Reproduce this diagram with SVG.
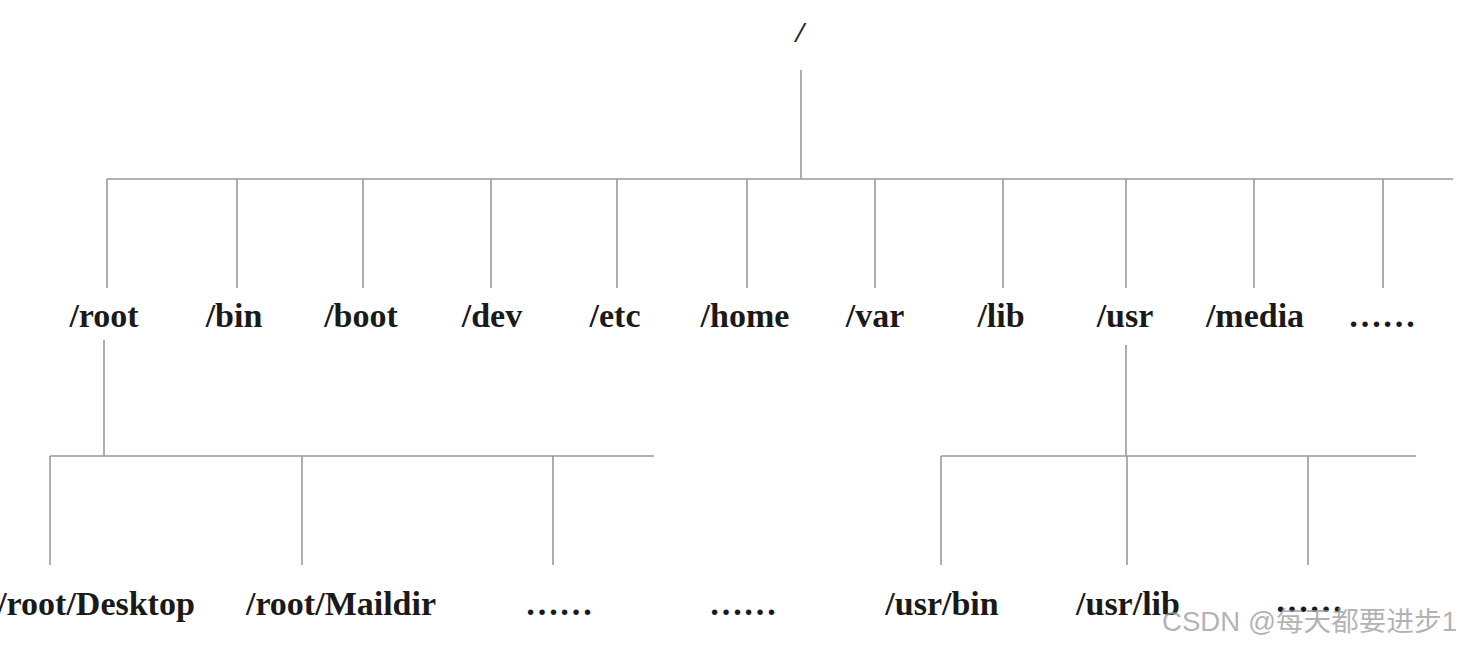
<svg xmlns="http://www.w3.org/2000/svg" width="1460" height="645" viewBox="0 0 1460 645">
<style>
.ln{stroke:#9a9a9a;stroke-width:1.6;fill:none}
.lb{font-family:"Liberation Serif","Times New Roman",serif;font-weight:bold;font-size:34px;fill:#1a1a1a;text-anchor:middle}
.rt{font-family:"Liberation Serif","Times New Roman",serif;font-size:30px;fill:#222;text-anchor:middle;font-style:italic;font-weight:bold}
.wm{font-family:"Liberation Sans","Noto Sans CJK SC",sans-serif;font-size:27px;fill:#9a9a9a;fill-opacity:0.75}
</style>
<rect width="1460" height="645" fill="#ffffff"/>
<g id="connectors">
<path class="ln" d="M801 70V179M107 179H1453M107 179V288M237 179V288M363 179V288M491 179V288M617 179V288M747 179V288M875 179V288M1003 179V288M1126 179V288M1254 179V288M1383 179V288"/>
<path class="ln" d="M104 340V456M50 456H654M50 456V565M302 456V565M553 456V565"/>
<path class="ln" d="M1126 345V456M941 456H1416M941 456V565M1127 456V565M1308 456V565"/>
</g>
<g id="root"><text class="rt" x="800" y="42">/</text></g>
<g id="n-root"><text class="lb" x="104" y="327">/root</text></g>
<g id="n-bin"><text class="lb" x="234" y="327">/bin</text></g>
<g id="n-boot"><text class="lb" x="361" y="327">/boot</text></g>
<g id="n-dev"><text class="lb" x="492" y="327">/dev</text></g>
<g id="n-etc"><text class="lb" x="615" y="327">/etc</text></g>
<g id="n-home"><text class="lb" x="745" y="327">/home</text></g>
<g id="n-var"><text class="lb" x="875" y="327">/var</text></g>
<g id="n-lib"><text class="lb" x="1001" y="327">/lib</text></g>
<g id="n-usr"><text class="lb" x="1125" y="327">/usr</text></g>
<g id="n-media"><text class="lb" x="1255" y="327">/media</text></g>
<g id="n-more1"><text class="lb" x="1382" y="327">……</text></g>
<g id="n-desktop"><text class="lb" x="96" y="615">/root/Desktop</text></g>
<g id="n-maildir"><text class="lb" x="341" y="615">/root/Maildir</text></g>
<g id="n-more2"><text class="lb" x="559" y="615">……</text></g>
<g id="n-more3"><text class="lb" x="743" y="615">……</text></g>
<g id="n-usrbin"><text class="lb" x="942" y="615">/usr/bin</text></g>
<g id="n-usrlib"><text class="lb" x="1128" y="615">/usr/lib</text></g>
<g id="n-more4"><text class="lb" x="1309" y="612">……</text></g>
<g id="watermark"><text class="wm" x="1162" y="631" textLength="295" lengthAdjust="spacingAndGlyphs">CSDN @每天都要进步1</text></g>
</svg>
